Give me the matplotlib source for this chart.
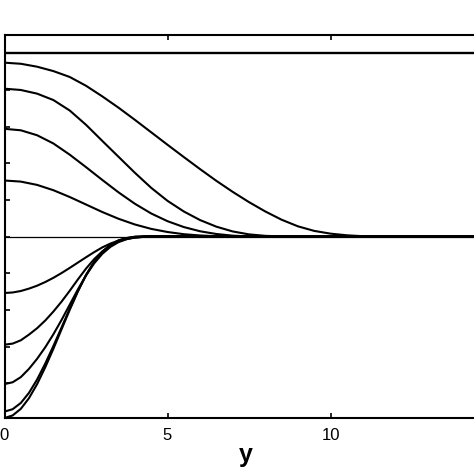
import numpy as np
import matplotlib
matplotlib.use("Agg")
import matplotlib.pyplot as plt

plt.rcParams['font.family'] = ['Liberation Sans', 'DejaVu Sans']

# upper family (values read at y = 0, 0.5, 1, ...)
x_half = [0, 0.5, 1, 1.5, 2, 2.5, 3, 3.5, 4, 4.5, 5, 5.5, 6, 6.5, 7, 7.5,
          8, 8.5, 9, 9.5, 10, 10.5, 11, 11.5, 14.8]
pos1 = [0.949, 0.943, 0.927, 0.903, 0.871, 0.823, 0.765, 0.703, 0.637, 0.569,
        0.501, 0.434, 0.368, 0.304, 0.244, 0.188, 0.137, 0.092, 0.056, 0.031,
        0.016, 0.007, 0.002, 0.0, 0.0]
pos2 = [0.807, 0.800, 0.780, 0.745, 0.688, 0.610, 0.522, 0.435, 0.348, 0.266,
        0.195, 0.137, 0.090, 0.054, 0.028, 0.012, 0.004, 0.001, 0.0, 0.0,
        0.0, 0.0, 0.0, 0.0, 0.0]
pos3 = [0.588, 0.580, 0.553, 0.508, 0.447, 0.379, 0.309, 0.241, 0.179, 0.126,
        0.084, 0.052, 0.029, 0.014, 0.005, 0.001, 0.0, 0.0, 0.0, 0.0,
        0.0, 0.0, 0.0, 0.0, 0.0]
pos4 = [0.306, 0.300, 0.282, 0.253, 0.216, 0.175, 0.134, 0.097, 0.066, 0.042,
        0.025, 0.013, 0.006, 0.002, 0.0, 0.0, 0.0, 0.0, 0.0, 0.0,
        0.0, 0.0, 0.0, 0.0, 0.0]

# lower family (values read at y = 0, 0.25, 0.5, ...)
x_quarter = [0, 0.25, 0.5, 0.75, 1, 1.25, 1.5, 1.75, 2, 2.25, 2.5, 2.75,
             3, 3.25, 3.5, 3.75, 4, 4.5, 5, 6, 14.8]
neg1 = [-0.308, -0.305, -0.297, -0.284, -0.268, -0.248, -0.225, -0.199, -0.171,
        -0.142, -0.113, -0.085, -0.059, -0.038, -0.022, -0.011, -0.005, 0.001,
        0.001, 0.0, 0.0]
neg2 = [-0.590, -0.584, -0.566, -0.535, -0.500, -0.458, -0.409, -0.355, -0.296,
        -0.234, -0.175, -0.123, -0.081, -0.049, -0.027, -0.013, -0.005, 0.002,
        0.001, 0.0, 0.0]
neg3 = [-0.805, -0.795, -0.767, -0.722, -0.667, -0.604, -0.533, -0.455, -0.372,
        -0.289, -0.212, -0.146, -0.094, -0.056, -0.030, -0.014, -0.005, 0.003,
        0.002, 0.0, 0.0]
neg4 = [-0.955, -0.942, -0.908, -0.853, -0.780, -0.693, -0.597, -0.496, -0.394,
        -0.297, -0.210, -0.138, -0.083, -0.045, -0.021, -0.008, -0.001, 0.003,
        0.002, 0.0, 0.0]
neg5 = [-0.990, -0.976, -0.940, -0.882, -0.805, -0.713, -0.612, -0.506, -0.400,
        -0.300, -0.211, -0.138, -0.083, -0.045, -0.021, -0.008, -0.001, 0.003,
        0.002, 0.0, 0.0]

x_flat = [0, 14.8]
top_line = [1.0, 1.0]
zero_line = [0.0, 0.0]

fig = plt.figure(figsize=(4.74, 4.74), dpi=100)
ax = fig.add_axes([4.5 / 474, 1 - 418 / 474, (487 - 4.5) / 474, (418 - 35) / 474])

ax.plot(x_flat, zero_line, color='black', lw=0.9)
ax.plot(x_flat, top_line, color='black', lw=1.7)
for ys in [pos1, pos2, pos3, pos4]:
    ax.plot(x_half, ys, color='black', lw=1.5)
for ys in [neg1, neg2, neg3, neg4, neg5]:
    ax.plot(x_quarter, ys, color='black', lw=1.5)

ax.set_xlim(0, 14.8)
ax.set_ylim(-0.99, 1.10)
ax.set_xticks([0, 5, 10])
ax.set_yticks(np.arange(-0.8, 1.01, 0.2))
ax.tick_params(direction='in', length=3.5, width=1.2, top=True, right=False,
               labelsize=12, pad=7)
ax.tick_params(axis='y', labelleft=False)
for s in ax.spines.values():
    s.set_linewidth(1.5)
ax.set_xlabel('y', fontsize=18, fontweight='bold', labelpad=0)

fig.savefig('out.png', dpi=100)
